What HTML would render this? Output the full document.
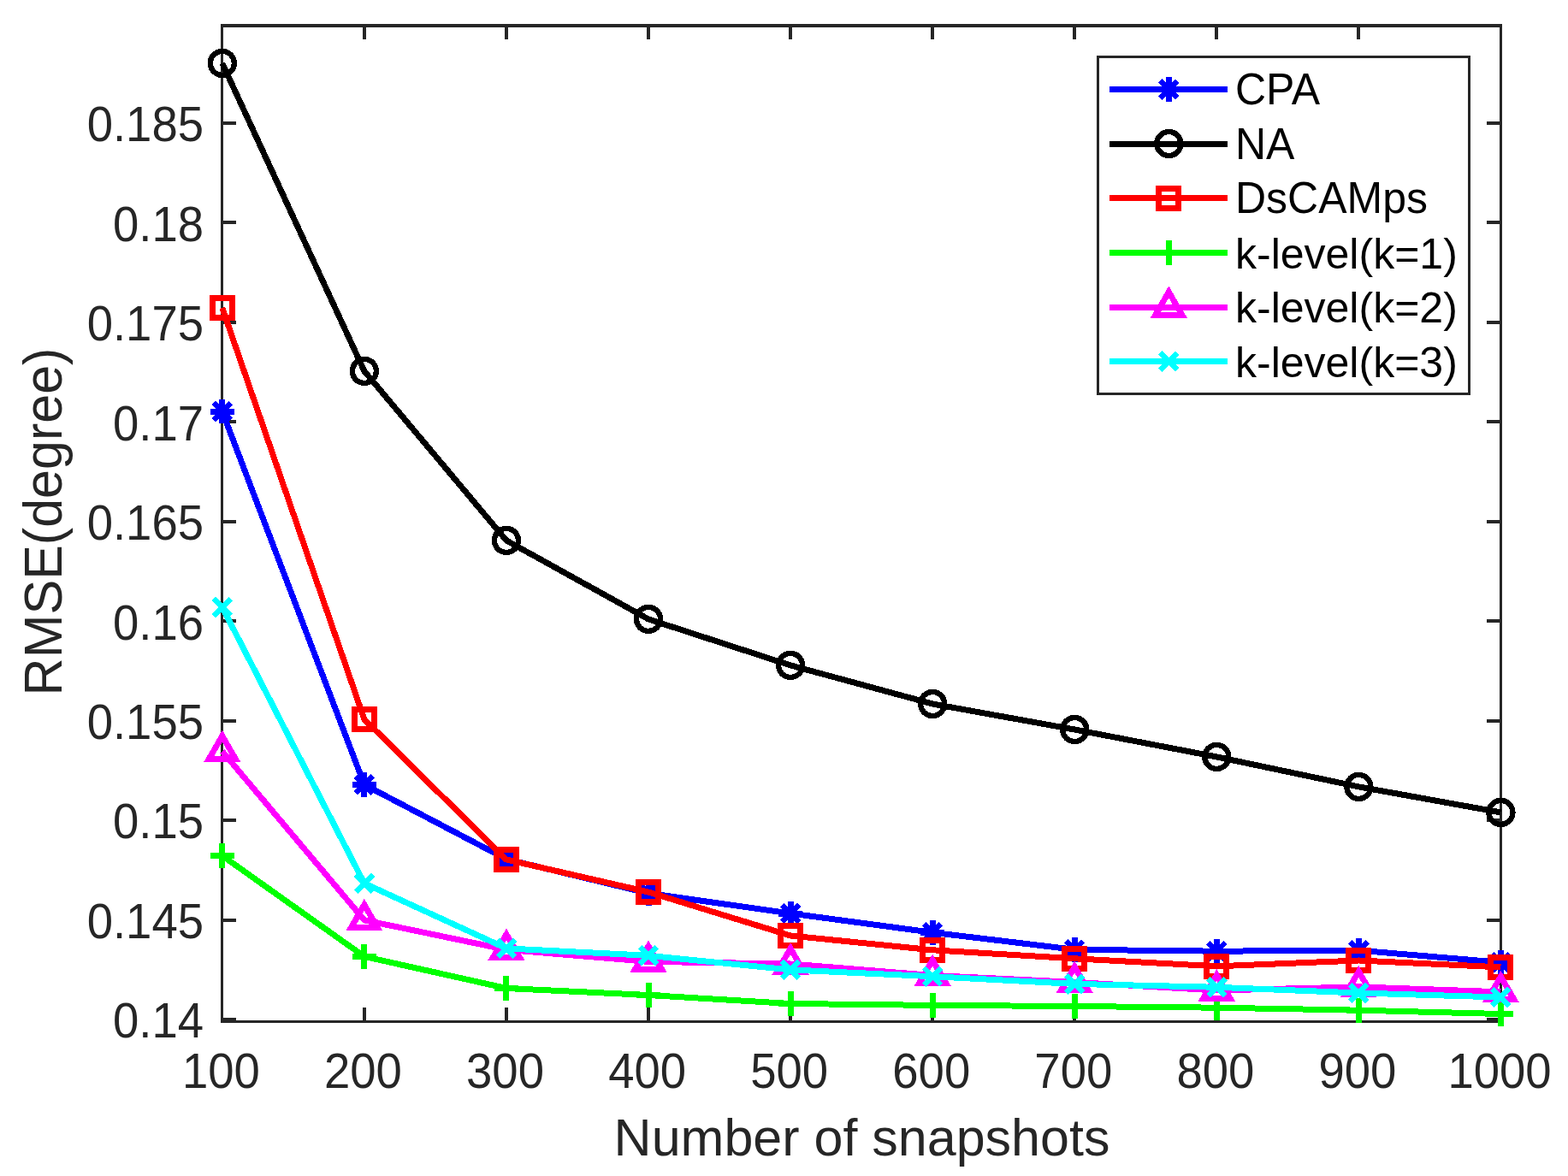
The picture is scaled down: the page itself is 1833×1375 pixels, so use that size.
<!DOCTYPE html>
<html><head><meta charset="utf-8"><title>RMSE vs Number of snapshots</title>
<style>html,body{margin:0;padding:0;background:#fff;width:1833px;height:1375px;overflow:hidden}svg{display:block}</style>
</head><body>
<svg width="1833" height="1375" viewBox="0 0 1833 1375">
<rect x="0" y="0" width="1833" height="1375" fill="#fff"/>
<rect x="258" y="28" width="3" height="1168" fill="#262626"/>
<rect x="1753" y="28" width="3" height="1168" fill="#262626"/>
<rect x="258" y="28" width="1498" height="4" fill="#262626"/>
<rect x="258" y="1193" width="1498" height="3" fill="#262626"/>
<rect x="258" y="1190" width="18" height="4" fill="#262626"/>
<rect x="1738" y="1190" width="18" height="4" fill="#262626"/>
<rect x="258" y="1074" width="18" height="4" fill="#262626"/>
<rect x="1738" y="1074" width="18" height="4" fill="#262626"/>
<rect x="258" y="957" width="18" height="4" fill="#262626"/>
<rect x="1738" y="957" width="18" height="4" fill="#262626"/>
<rect x="258" y="841" width="18" height="4" fill="#262626"/>
<rect x="1738" y="841" width="18" height="4" fill="#262626"/>
<rect x="258" y="724" width="18" height="4" fill="#262626"/>
<rect x="1738" y="724" width="18" height="4" fill="#262626"/>
<rect x="258" y="608" width="18" height="4" fill="#262626"/>
<rect x="1738" y="608" width="18" height="4" fill="#262626"/>
<rect x="258" y="491" width="18" height="4" fill="#262626"/>
<rect x="1738" y="491" width="18" height="4" fill="#262626"/>
<rect x="258" y="375" width="18" height="4" fill="#262626"/>
<rect x="1738" y="375" width="18" height="4" fill="#262626"/>
<rect x="258" y="258" width="18" height="4" fill="#262626"/>
<rect x="1738" y="258" width="18" height="4" fill="#262626"/>
<rect x="258" y="142" width="18" height="4" fill="#262626"/>
<rect x="1738" y="142" width="18" height="4" fill="#262626"/>
<rect x="424" y="1178" width="4" height="18" fill="#262626"/>
<rect x="424" y="28" width="4" height="18" fill="#262626"/>
<rect x="590" y="1178" width="4" height="18" fill="#262626"/>
<rect x="590" y="28" width="4" height="18" fill="#262626"/>
<rect x="756" y="1178" width="4" height="18" fill="#262626"/>
<rect x="756" y="28" width="4" height="18" fill="#262626"/>
<rect x="922" y="1178" width="4" height="18" fill="#262626"/>
<rect x="922" y="28" width="4" height="18" fill="#262626"/>
<rect x="1088" y="1178" width="4" height="18" fill="#262626"/>
<rect x="1088" y="28" width="4" height="18" fill="#262626"/>
<rect x="1254" y="1178" width="4" height="18" fill="#262626"/>
<rect x="1254" y="28" width="4" height="18" fill="#262626"/>
<rect x="1420" y="1178" width="4" height="18" fill="#262626"/>
<rect x="1420" y="28" width="4" height="18" fill="#262626"/>
<rect x="1586" y="1178" width="4" height="18" fill="#262626"/>
<rect x="1586" y="28" width="4" height="18" fill="#262626"/>
<g shape-rendering="crispEdges">
<polyline points="259.8,481 425.87,917.5 591.94,1004.5 758.01,1044.4 924.08,1068 1090.15,1090.3 1256.22,1110.3 1422.29,1112.2 1588.36,1111.2 1754.43,1125.3" stroke="#0000ff" stroke-width="7.0" fill="none" stroke-linejoin="round"/>
<path d="M245.5 481H274.1M259.8 466.7V495.3" stroke="#0000ff" stroke-width="7.0" fill="none"/><path d="M249.8 471L269.8 491M249.8 491L269.8 471" stroke="#0000ff" stroke-width="6.3" fill="none"/>
<path d="M411.57 917.5H440.17M425.87 903.2V931.8" stroke="#0000ff" stroke-width="7.0" fill="none"/><path d="M415.87 907.5L435.87 927.5M415.87 927.5L435.87 907.5" stroke="#0000ff" stroke-width="6.3" fill="none"/>
<path d="M577.64 1004.5H606.24M591.94 990.2V1018.8" stroke="#0000ff" stroke-width="7.0" fill="none"/><path d="M581.94 994.5L601.94 1014.5M581.94 1014.5L601.94 994.5" stroke="#0000ff" stroke-width="6.3" fill="none"/>
<path d="M743.71 1044.4H772.31M758.01 1030.1V1058.7" stroke="#0000ff" stroke-width="7.0" fill="none"/><path d="M748.01 1034.4L768.01 1054.4M748.01 1054.4L768.01 1034.4" stroke="#0000ff" stroke-width="6.3" fill="none"/>
<path d="M909.78 1068H938.38M924.08 1053.7V1082.3" stroke="#0000ff" stroke-width="7.0" fill="none"/><path d="M914.08 1058L934.08 1078M914.08 1078L934.08 1058" stroke="#0000ff" stroke-width="6.3" fill="none"/>
<path d="M1075.85 1090.3H1104.45M1090.15 1076V1104.6" stroke="#0000ff" stroke-width="7.0" fill="none"/><path d="M1080.15 1080.3L1100.15 1100.3M1080.15 1100.3L1100.15 1080.3" stroke="#0000ff" stroke-width="6.3" fill="none"/>
<path d="M1241.92 1110.3H1270.52M1256.22 1096V1124.6" stroke="#0000ff" stroke-width="7.0" fill="none"/><path d="M1246.22 1100.3L1266.22 1120.3M1246.22 1120.3L1266.22 1100.3" stroke="#0000ff" stroke-width="6.3" fill="none"/>
<path d="M1407.99 1112.2H1436.59M1422.29 1097.9V1126.5" stroke="#0000ff" stroke-width="7.0" fill="none"/><path d="M1412.29 1102.2L1432.29 1122.2M1412.29 1122.2L1432.29 1102.2" stroke="#0000ff" stroke-width="6.3" fill="none"/>
<path d="M1574.06 1111.2H1602.66M1588.36 1096.9V1125.5" stroke="#0000ff" stroke-width="7.0" fill="none"/><path d="M1578.36 1101.2L1598.36 1121.2M1578.36 1121.2L1598.36 1101.2" stroke="#0000ff" stroke-width="6.3" fill="none"/>
<path d="M1740.13 1125.3H1768.73M1754.43 1111V1139.6" stroke="#0000ff" stroke-width="7.0" fill="none"/><path d="M1744.43 1115.3L1764.43 1135.3M1744.43 1135.3L1764.43 1115.3" stroke="#0000ff" stroke-width="6.3" fill="none"/>
<polyline points="259.8,73.9 425.87,433.9 591.94,631.9 758.01,723.9 924.08,777.9 1090.15,823 1256.22,853 1422.29,884.9 1588.36,919.9 1754.43,949.9" stroke="#000000" stroke-width="7.0" fill="none" stroke-linejoin="round"/>
<circle cx="259.8" cy="73.9" r="14" stroke="#000000" stroke-width="6.4" fill="none"/>
<circle cx="425.87" cy="433.9" r="14" stroke="#000000" stroke-width="6.4" fill="none"/>
<circle cx="591.94" cy="631.9" r="14" stroke="#000000" stroke-width="6.4" fill="none"/>
<circle cx="758.01" cy="723.9" r="14" stroke="#000000" stroke-width="6.4" fill="none"/>
<circle cx="924.08" cy="777.9" r="14" stroke="#000000" stroke-width="6.4" fill="none"/>
<circle cx="1090.15" cy="823" r="14" stroke="#000000" stroke-width="6.4" fill="none"/>
<circle cx="1256.22" cy="853" r="14" stroke="#000000" stroke-width="6.4" fill="none"/>
<circle cx="1422.29" cy="884.9" r="14" stroke="#000000" stroke-width="6.4" fill="none"/>
<circle cx="1588.36" cy="919.9" r="14" stroke="#000000" stroke-width="6.4" fill="none"/>
<circle cx="1754.43" cy="949.9" r="14" stroke="#000000" stroke-width="6.4" fill="none"/>
<polyline points="259.8,360 425.87,841 591.94,1005 758.01,1043 924.08,1094 1090.15,1110.8 1256.22,1120.8 1422.29,1129.8 1588.36,1123 1754.43,1130.9" stroke="#ff0000" stroke-width="7.0" fill="none" stroke-linejoin="round"/>
<rect x="248.3" y="348.5" width="23" height="23" stroke="#ff0000" stroke-width="7.0" fill="none"/>
<rect x="414.37" y="829.5" width="23" height="23" stroke="#ff0000" stroke-width="7.0" fill="none"/>
<rect x="580.44" y="993.5" width="23" height="23" stroke="#ff0000" stroke-width="7.0" fill="none"/>
<rect x="746.51" y="1031.5" width="23" height="23" stroke="#ff0000" stroke-width="7.0" fill="none"/>
<rect x="912.58" y="1082.5" width="23" height="23" stroke="#ff0000" stroke-width="7.0" fill="none"/>
<rect x="1078.65" y="1099.3" width="23" height="23" stroke="#ff0000" stroke-width="7.0" fill="none"/>
<rect x="1244.72" y="1109.3" width="23" height="23" stroke="#ff0000" stroke-width="7.0" fill="none"/>
<rect x="1410.79" y="1118.3" width="23" height="23" stroke="#ff0000" stroke-width="7.0" fill="none"/>
<rect x="1576.86" y="1111.5" width="23" height="23" stroke="#ff0000" stroke-width="7.0" fill="none"/>
<rect x="1742.93" y="1119.4" width="23" height="23" stroke="#ff0000" stroke-width="7.0" fill="none"/>
<polyline points="259.8,1000.5 425.87,1118.4 591.94,1155.5 758.01,1163.5 924.08,1173.5 1090.15,1175.4 1256.22,1176.5 1422.29,1178.2 1588.36,1181.2 1754.43,1185.5" stroke="#00ff00" stroke-width="7.0" fill="none" stroke-linejoin="round"/>
<path d="M245.5 1000.5H274.1M259.8 986.2V1014.8" stroke="#00ff00" stroke-width="7.0" fill="none"/>
<path d="M411.57 1118.4H440.17M425.87 1104.1V1132.7" stroke="#00ff00" stroke-width="7.0" fill="none"/>
<path d="M577.64 1155.5H606.24M591.94 1141.2V1169.8" stroke="#00ff00" stroke-width="7.0" fill="none"/>
<path d="M743.71 1163.5H772.31M758.01 1149.2V1177.8" stroke="#00ff00" stroke-width="7.0" fill="none"/>
<path d="M909.78 1173.5H938.38M924.08 1159.2V1187.8" stroke="#00ff00" stroke-width="7.0" fill="none"/>
<path d="M1075.85 1175.4H1104.45M1090.15 1161.1V1189.7" stroke="#00ff00" stroke-width="7.0" fill="none"/>
<path d="M1241.92 1176.5H1270.52M1256.22 1162.2V1190.8" stroke="#00ff00" stroke-width="7.0" fill="none"/>
<path d="M1407.99 1178.2H1436.59M1422.29 1163.9V1192.5" stroke="#00ff00" stroke-width="7.0" fill="none"/>
<path d="M1574.06 1181.2H1602.66M1588.36 1166.9V1195.5" stroke="#00ff00" stroke-width="7.0" fill="none"/>
<path d="M1740.13 1185.5H1768.73M1754.43 1171.2V1199.8" stroke="#00ff00" stroke-width="7.0" fill="none"/>
<polyline points="259.8,878.5 425.87,1075.8 591.94,1110.4 758.01,1124.4 924.08,1127 1090.15,1140.5 1256.22,1148.4 1422.29,1158 1588.36,1153.9 1754.43,1159.8" stroke="#ff00ff" stroke-width="7.0" fill="none" stroke-linejoin="round"/>
<path d="M259.8 860.5L275.39 887.5L244.21 887.5Z" stroke="#ff00ff" stroke-width="7.0" fill="none" stroke-linejoin="miter"/>
<path d="M425.87 1057.8L441.46 1084.8L410.28 1084.8Z" stroke="#ff00ff" stroke-width="7.0" fill="none" stroke-linejoin="miter"/>
<path d="M591.94 1092.4L607.53 1119.4L576.35 1119.4Z" stroke="#ff00ff" stroke-width="7.0" fill="none" stroke-linejoin="miter"/>
<path d="M758.01 1106.4L773.6 1133.4L742.42 1133.4Z" stroke="#ff00ff" stroke-width="7.0" fill="none" stroke-linejoin="miter"/>
<path d="M924.08 1109L939.67 1136L908.49 1136Z" stroke="#ff00ff" stroke-width="7.0" fill="none" stroke-linejoin="miter"/>
<path d="M1090.15 1122.5L1105.74 1149.5L1074.56 1149.5Z" stroke="#ff00ff" stroke-width="7.0" fill="none" stroke-linejoin="miter"/>
<path d="M1256.22 1130.4L1271.81 1157.4L1240.63 1157.4Z" stroke="#ff00ff" stroke-width="7.0" fill="none" stroke-linejoin="miter"/>
<path d="M1422.29 1140L1437.88 1167L1406.7 1167Z" stroke="#ff00ff" stroke-width="7.0" fill="none" stroke-linejoin="miter"/>
<path d="M1588.36 1135.9L1603.95 1162.9L1572.77 1162.9Z" stroke="#ff00ff" stroke-width="7.0" fill="none" stroke-linejoin="miter"/>
<path d="M1754.43 1141.8L1770.02 1168.8L1738.84 1168.8Z" stroke="#ff00ff" stroke-width="7.0" fill="none" stroke-linejoin="miter"/>
<polyline points="259.8,710 425.87,1032.8 591.94,1108.9 758.01,1117.3 924.08,1133.9 1090.15,1141.7 1256.22,1150.4 1422.29,1154.3 1588.36,1161 1754.43,1166" stroke="#00ffff" stroke-width="7.0" fill="none" stroke-linejoin="round"/>
<path d="M249.8 700L269.8 720M249.8 720L269.8 700" stroke="#00ffff" stroke-width="6.3" fill="none"/>
<path d="M415.87 1022.8L435.87 1042.8M415.87 1042.8L435.87 1022.8" stroke="#00ffff" stroke-width="6.3" fill="none"/>
<path d="M581.94 1098.9L601.94 1118.9M581.94 1118.9L601.94 1098.9" stroke="#00ffff" stroke-width="6.3" fill="none"/>
<path d="M748.01 1107.3L768.01 1127.3M748.01 1127.3L768.01 1107.3" stroke="#00ffff" stroke-width="6.3" fill="none"/>
<path d="M914.08 1123.9L934.08 1143.9M914.08 1143.9L934.08 1123.9" stroke="#00ffff" stroke-width="6.3" fill="none"/>
<path d="M1080.15 1131.7L1100.15 1151.7M1080.15 1151.7L1100.15 1131.7" stroke="#00ffff" stroke-width="6.3" fill="none"/>
<path d="M1246.22 1140.4L1266.22 1160.4M1246.22 1160.4L1266.22 1140.4" stroke="#00ffff" stroke-width="6.3" fill="none"/>
<path d="M1412.29 1144.3L1432.29 1164.3M1412.29 1164.3L1432.29 1144.3" stroke="#00ffff" stroke-width="6.3" fill="none"/>
<path d="M1578.36 1151L1598.36 1171M1578.36 1171L1598.36 1151" stroke="#00ffff" stroke-width="6.3" fill="none"/>
<path d="M1744.43 1156L1764.43 1176M1744.43 1176L1764.43 1156" stroke="#00ffff" stroke-width="6.3" fill="none"/>
</g>
<g font-family="'Liberation Sans', Arial, Helvetica, sans-serif" font-size="54.5" fill="#262626"><text x="238" y="1213.3" text-anchor="end" transform="matrix(1 0 0 1.041 0 -49.75)">0.14</text>
<text x="238" y="1096.85" text-anchor="end" transform="matrix(1 0 0 1.041 0 -44.97)">0.145</text>
<text x="238" y="980.41" text-anchor="end" transform="matrix(1 0 0 1.041 0 -40.2)">0.15</text>
<text x="238" y="863.96" text-anchor="end" transform="matrix(1 0 0 1.041 0 -35.42)">0.155</text>
<text x="238" y="747.52" text-anchor="end" transform="matrix(1 0 0 1.041 0 -30.65)">0.16</text>
<text x="238" y="631.08" text-anchor="end" transform="matrix(1 0 0 1.041 0 -25.87)">0.165</text>
<text x="238" y="514.63" text-anchor="end" transform="matrix(1 0 0 1.041 0 -21.1)">0.17</text>
<text x="238" y="398.18" text-anchor="end" transform="matrix(1 0 0 1.041 0 -16.33)">0.175</text>
<text x="238" y="281.74" text-anchor="end" transform="matrix(1 0 0 1.041 0 -11.55)">0.18</text>
<text x="238" y="165.3" text-anchor="end" transform="matrix(1 0 0 1.041 0 -6.78)">0.185</text>
<text x="258.4" y="1271.7" text-anchor="middle" transform="matrix(1 0 0 1.041 0 -52.14)">100</text>
<text x="424.47" y="1271.7" text-anchor="middle" transform="matrix(1 0 0 1.041 0 -52.14)">200</text>
<text x="590.54" y="1271.7" text-anchor="middle" transform="matrix(1 0 0 1.041 0 -52.14)">300</text>
<text x="756.61" y="1271.7" text-anchor="middle" transform="matrix(1 0 0 1.041 0 -52.14)">400</text>
<text x="922.68" y="1271.7" text-anchor="middle" transform="matrix(1 0 0 1.041 0 -52.14)">500</text>
<text x="1088.75" y="1271.7" text-anchor="middle" transform="matrix(1 0 0 1.041 0 -52.14)">600</text>
<text x="1254.82" y="1271.7" text-anchor="middle" transform="matrix(1 0 0 1.041 0 -52.14)">700</text>
<text x="1420.89" y="1271.7" text-anchor="middle" transform="matrix(1 0 0 1.041 0 -52.14)">800</text>
<text x="1586.96" y="1271.7" text-anchor="middle" transform="matrix(1 0 0 1.041 0 -52.14)">900</text>
<text x="1753.03" y="1271.7" text-anchor="middle" transform="matrix(1 0 0 1.041 0 -52.14)">1000</text></g>
<text x="1007.5" y="1350.8" text-anchor="middle" font-family="'Liberation Sans', Arial, Helvetica, sans-serif" font-size="61" fill="#262626" transform="matrix(1 0 0 1.0 0 -0)">Number of snapshots</text>
<text transform="translate(72 610) rotate(-90) scale(1 1.02)" x="0" y="0" text-anchor="middle" font-family="'Liberation Sans', Arial, Helvetica, sans-serif" font-size="61" fill="#262626">RMSE(degree)</text>
<rect x="1283.5" y="66.5" width="434" height="394" fill="#fff" stroke="#262626" stroke-width="3"/>
<g shape-rendering="crispEdges"><path d="M1297 104.5H1435" stroke="#0000ff" stroke-width="7.0" fill="none"/>
<path d="M1352 104.5H1380.6M1366.3 90.2V118.8" stroke="#0000ff" stroke-width="7.0" fill="none"/><path d="M1356.3 94.5L1376.3 114.5M1356.3 114.5L1376.3 94.5" stroke="#0000ff" stroke-width="6.3" fill="none"/></g>
<text x="1444" y="122.5" font-family="'Liberation Sans', Arial, Helvetica, sans-serif" font-size="50" fill="#000" transform="matrix(1 0 0 1.041 0 -5.02)">CPA</text>
<g shape-rendering="crispEdges"><path d="M1297 168H1435" stroke="#000000" stroke-width="7.0" fill="none"/>
<circle cx="1366.3" cy="168" r="14" stroke="#000000" stroke-width="6.4" fill="none"/></g>
<text x="1444" y="186" font-family="'Liberation Sans', Arial, Helvetica, sans-serif" font-size="50" fill="#000" transform="matrix(1 0 0 1.041 0 -7.63)">NA</text>
<g shape-rendering="crispEdges"><path d="M1297 231.5H1435" stroke="#ff0000" stroke-width="7.0" fill="none"/>
<rect x="1354.8" y="220" width="23" height="23" stroke="#ff0000" stroke-width="7.0" fill="none"/></g>
<text x="1444" y="249.5" font-family="'Liberation Sans', Arial, Helvetica, sans-serif" font-size="50" fill="#000" transform="matrix(1 0 0 1.025 0 -6.24)">DsCAMps</text>
<g shape-rendering="crispEdges"><path d="M1297 295.5H1435" stroke="#00ff00" stroke-width="7.0" fill="none"/>
<path d="M1352 295.5H1380.6M1366.3 281.2V309.8" stroke="#00ff00" stroke-width="7.0" fill="none"/></g>
<text x="1444" y="313.5" font-family="'Liberation Sans', Arial, Helvetica, sans-serif" font-size="50" fill="#000" transform="matrix(1 0 0 1.0 0 -0)">k-level(k=1)</text>
<g shape-rendering="crispEdges"><path d="M1297 359.4H1435" stroke="#ff00ff" stroke-width="7.0" fill="none"/>
<path d="M1366.3 341.4L1381.89 368.4L1350.71 368.4Z" stroke="#ff00ff" stroke-width="7.0" fill="none" stroke-linejoin="miter"/></g>
<text x="1444" y="377.4" font-family="'Liberation Sans', Arial, Helvetica, sans-serif" font-size="50" fill="#000" transform="matrix(1 0 0 1.0 0 -0)">k-level(k=2)</text>
<g shape-rendering="crispEdges"><path d="M1297 422.6H1435" stroke="#00ffff" stroke-width="7.0" fill="none"/>
<path d="M1356.3 412.6L1376.3 432.6M1356.3 432.6L1376.3 412.6" stroke="#00ffff" stroke-width="6.3" fill="none"/></g>
<text x="1444" y="440.6" font-family="'Liberation Sans', Arial, Helvetica, sans-serif" font-size="50" fill="#000" transform="matrix(1 0 0 1.0 0 -0)">k-level(k=3)</text>
</svg>
</body></html>
